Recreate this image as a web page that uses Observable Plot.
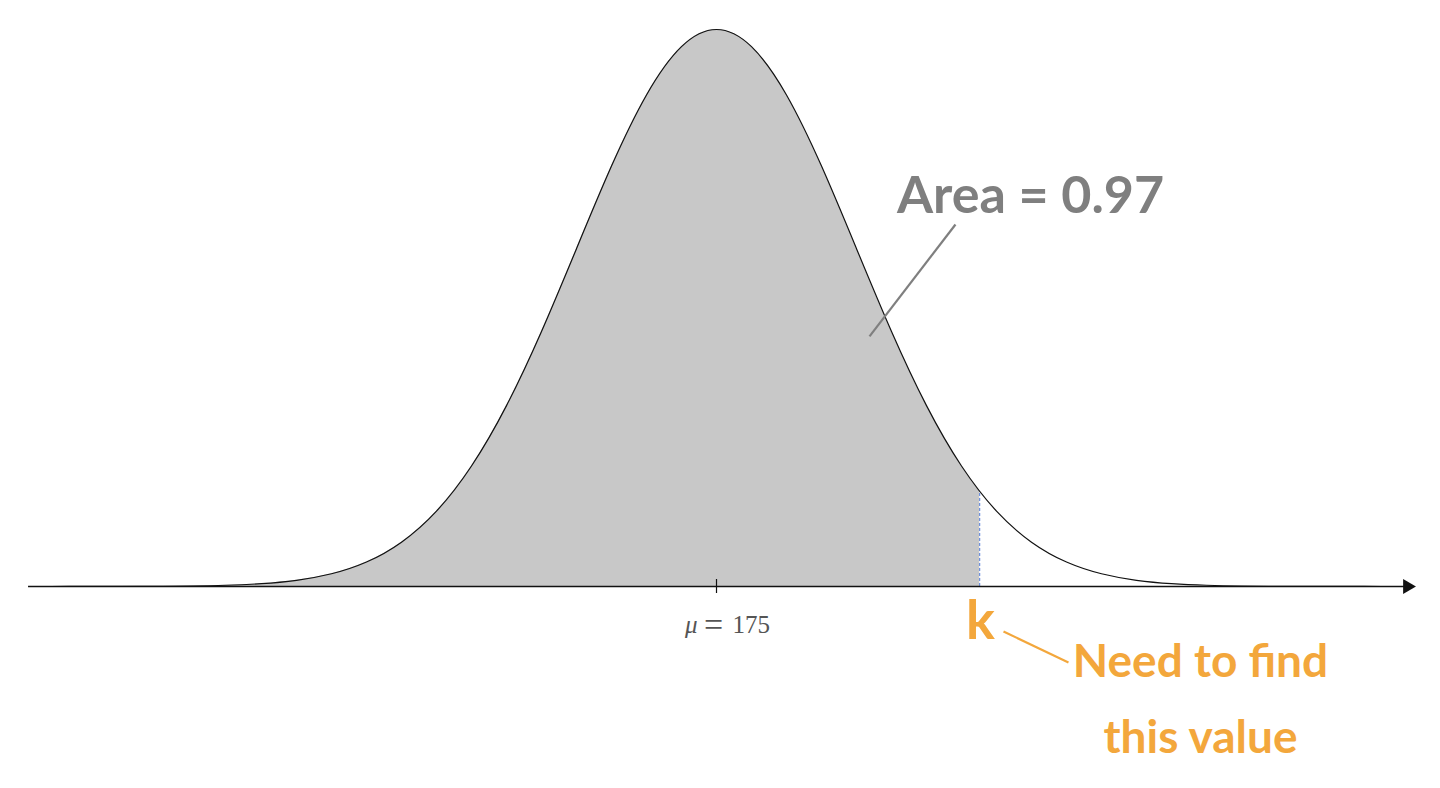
<!DOCTYPE html>
<html>
<head>
<meta charset="utf-8">
<script src="https://cdn.jsdelivr.net/npm/d3@7"></script>
<script src="https://cdn.jsdelivr.net/npm/@observablehq/plot@0.6"></script>
<style>
  html, body { margin: 0; padding: 0; background: #fff; }
  #chart svg { display: block; }
</style>
</head>
<body>
<div id="chart"></div>
<script>
// Heights (cm), mean 175, curve (relative density, peak = 1)
const heights = [125,127.5,130,132.5,135,137.5,140,142.5,145,147.5,150,152.5,155,157.5,160,162.5,165,167.5,170,172.5,175,177.5,180,182.5,185,187.5,190,192.5,195,197.5,200,202.5,205,207.5,210,212.5,215,217.5,220,222.5,225];
const density = [0.000004,0.000013,0.00004,0.00012,0.00034,0.00088,0.0022,0.0051,0.0111,0.0228,0.0439,0.0796,0.1353,0.2163,0.3247,0.4578,0.6065,0.7548,0.8825,0.9692,1,0.9692,0.8825,0.7548,0.6065,0.4578,0.3247,0.2163,0.1353,0.0796,0.0439,0.0228,0.0111,0.0051,0.0022,0.00088,0.00034,0.00012,0.00004,0.000013,0.000004];
const axisStart = 125.86;
const axisEnd = 224.9;
const mu = 175;
const kValue = 193.8;
const kDensity = 0.1708;
const areaLabel = "Area = 0.97";
const muLabel = ["μ", "=", "175"];
const kLabel = "k";
const noteLines = ["Need to find", "this value"];

const curve = heights.map((h, i) => ({x: h, y: density[i]})).filter(d => d.x >= axisStart && d.x <= axisEnd);
const shaded = curve.filter(d => d.x < kValue).concat([{x: kValue, y: kDensity}]);

const gray = "#7f7f7f";
const orange = "#f3a73c";
const hand = "Lato, 'Noto Sans', sans-serif";
const serif = "'Liberation Serif', serif";

const chart = Plot.plot({
  width: 1440,
  height: 788,
  marginTop: 0, marginRight: 0, marginBottom: 0, marginLeft: 0,
  x: {domain: [123.857, 226.714], axis: null},
  y: {domain: [-0.3627, 1.0521], axis: null},
  style: {background: "#fff", overflow: "visible"},
  marks: [
    Plot.areaY(shaded, {x: "x", y: "y", fill: "#c8c8c8", curve: "natural"}),
    Plot.ruleX([kValue], {y1: 0, y2: kDensity, stroke: "#4f78d6", strokeWidth: 1, strokeDasharray: "3,2"}),
    Plot.line(curve, {x: "x", y: "y", stroke: "#111", strokeWidth: 1.2, curve: "natural"}),
    // horizontal axis with arrow
    Plot.ruleY([0], {x1: axisStart, x2: 224.5, stroke: "#111", strokeWidth: 1.6}),
    Plot.dot([{x: 224.35, y: 0}], {x: "x", y: "y", symbol: "triangle", rotate: 90, r: 5.5, fill: "#111", stroke: "none"}),
    Plot.ruleX([mu], {y1: 0.0126, y2: -0.0126, stroke: "#111", strokeWidth: 1.2}),
    Plot.text([muLabel[0]], {x: 173.65, y: -0.070, text: d => d, textAnchor: "end", fontFamily: serif, fontStyle: "italic", fontSize: 25, fill: "#555"}),
    Plot.text([muLabel[1]], {x: 174.8, y: -0.070, text: d => d, textAnchor: "middle", fontFamily: serif, fontSize: 34, fill: "#555"}),
    Plot.text([muLabel[2]], {x: 176.14, y: -0.070, text: d => d, textAnchor: "start", fontFamily: serif, fontSize: 25, fill: "#555"}),
    // Area annotation
    Plot.text([areaLabel], {x: 197.43, y: 0.700, text: d => d, textAnchor: "middle", fontFamily: hand, fontWeight: "bold", fontSize: 52, fill: gray}),
    Plot.link([{x1: 192.07, y1: 0.650, x2: 185.93, y2: 0.449}], {x1: "x1", y1: "y1", x2: "x2", y2: "y2", stroke: gray, strokeWidth: 2.2}),
    // k annotation
    Plot.text([kLabel], {x: 193.86, y: -0.0628, text: d => d, textAnchor: "middle", fontFamily: hand, fontWeight: "bold", fontSize: 54, fill: orange}),
    Plot.link([{x1: 195.5, y1: -0.0808, x2: 200.14, y2: -0.1364}], {x1: "x1", y1: "y1", x2: "x2", y2: "y2", stroke: orange, strokeWidth: 2.2}),
    Plot.text([noteLines[0]], {x: 209.57, y: -0.1364, text: d => d, textAnchor: "middle", fontFamily: hand, fontWeight: "bold", fontSize: 46, fill: orange}),
    Plot.text([noteLines[1]], {x: 209.57, y: -0.2729, text: d => d, textAnchor: "middle", fontFamily: hand, fontWeight: "bold", fontSize: 46, fill: orange})
  ]
});
document.getElementById("chart").appendChild(chart);
</script>
</body>
</html>
